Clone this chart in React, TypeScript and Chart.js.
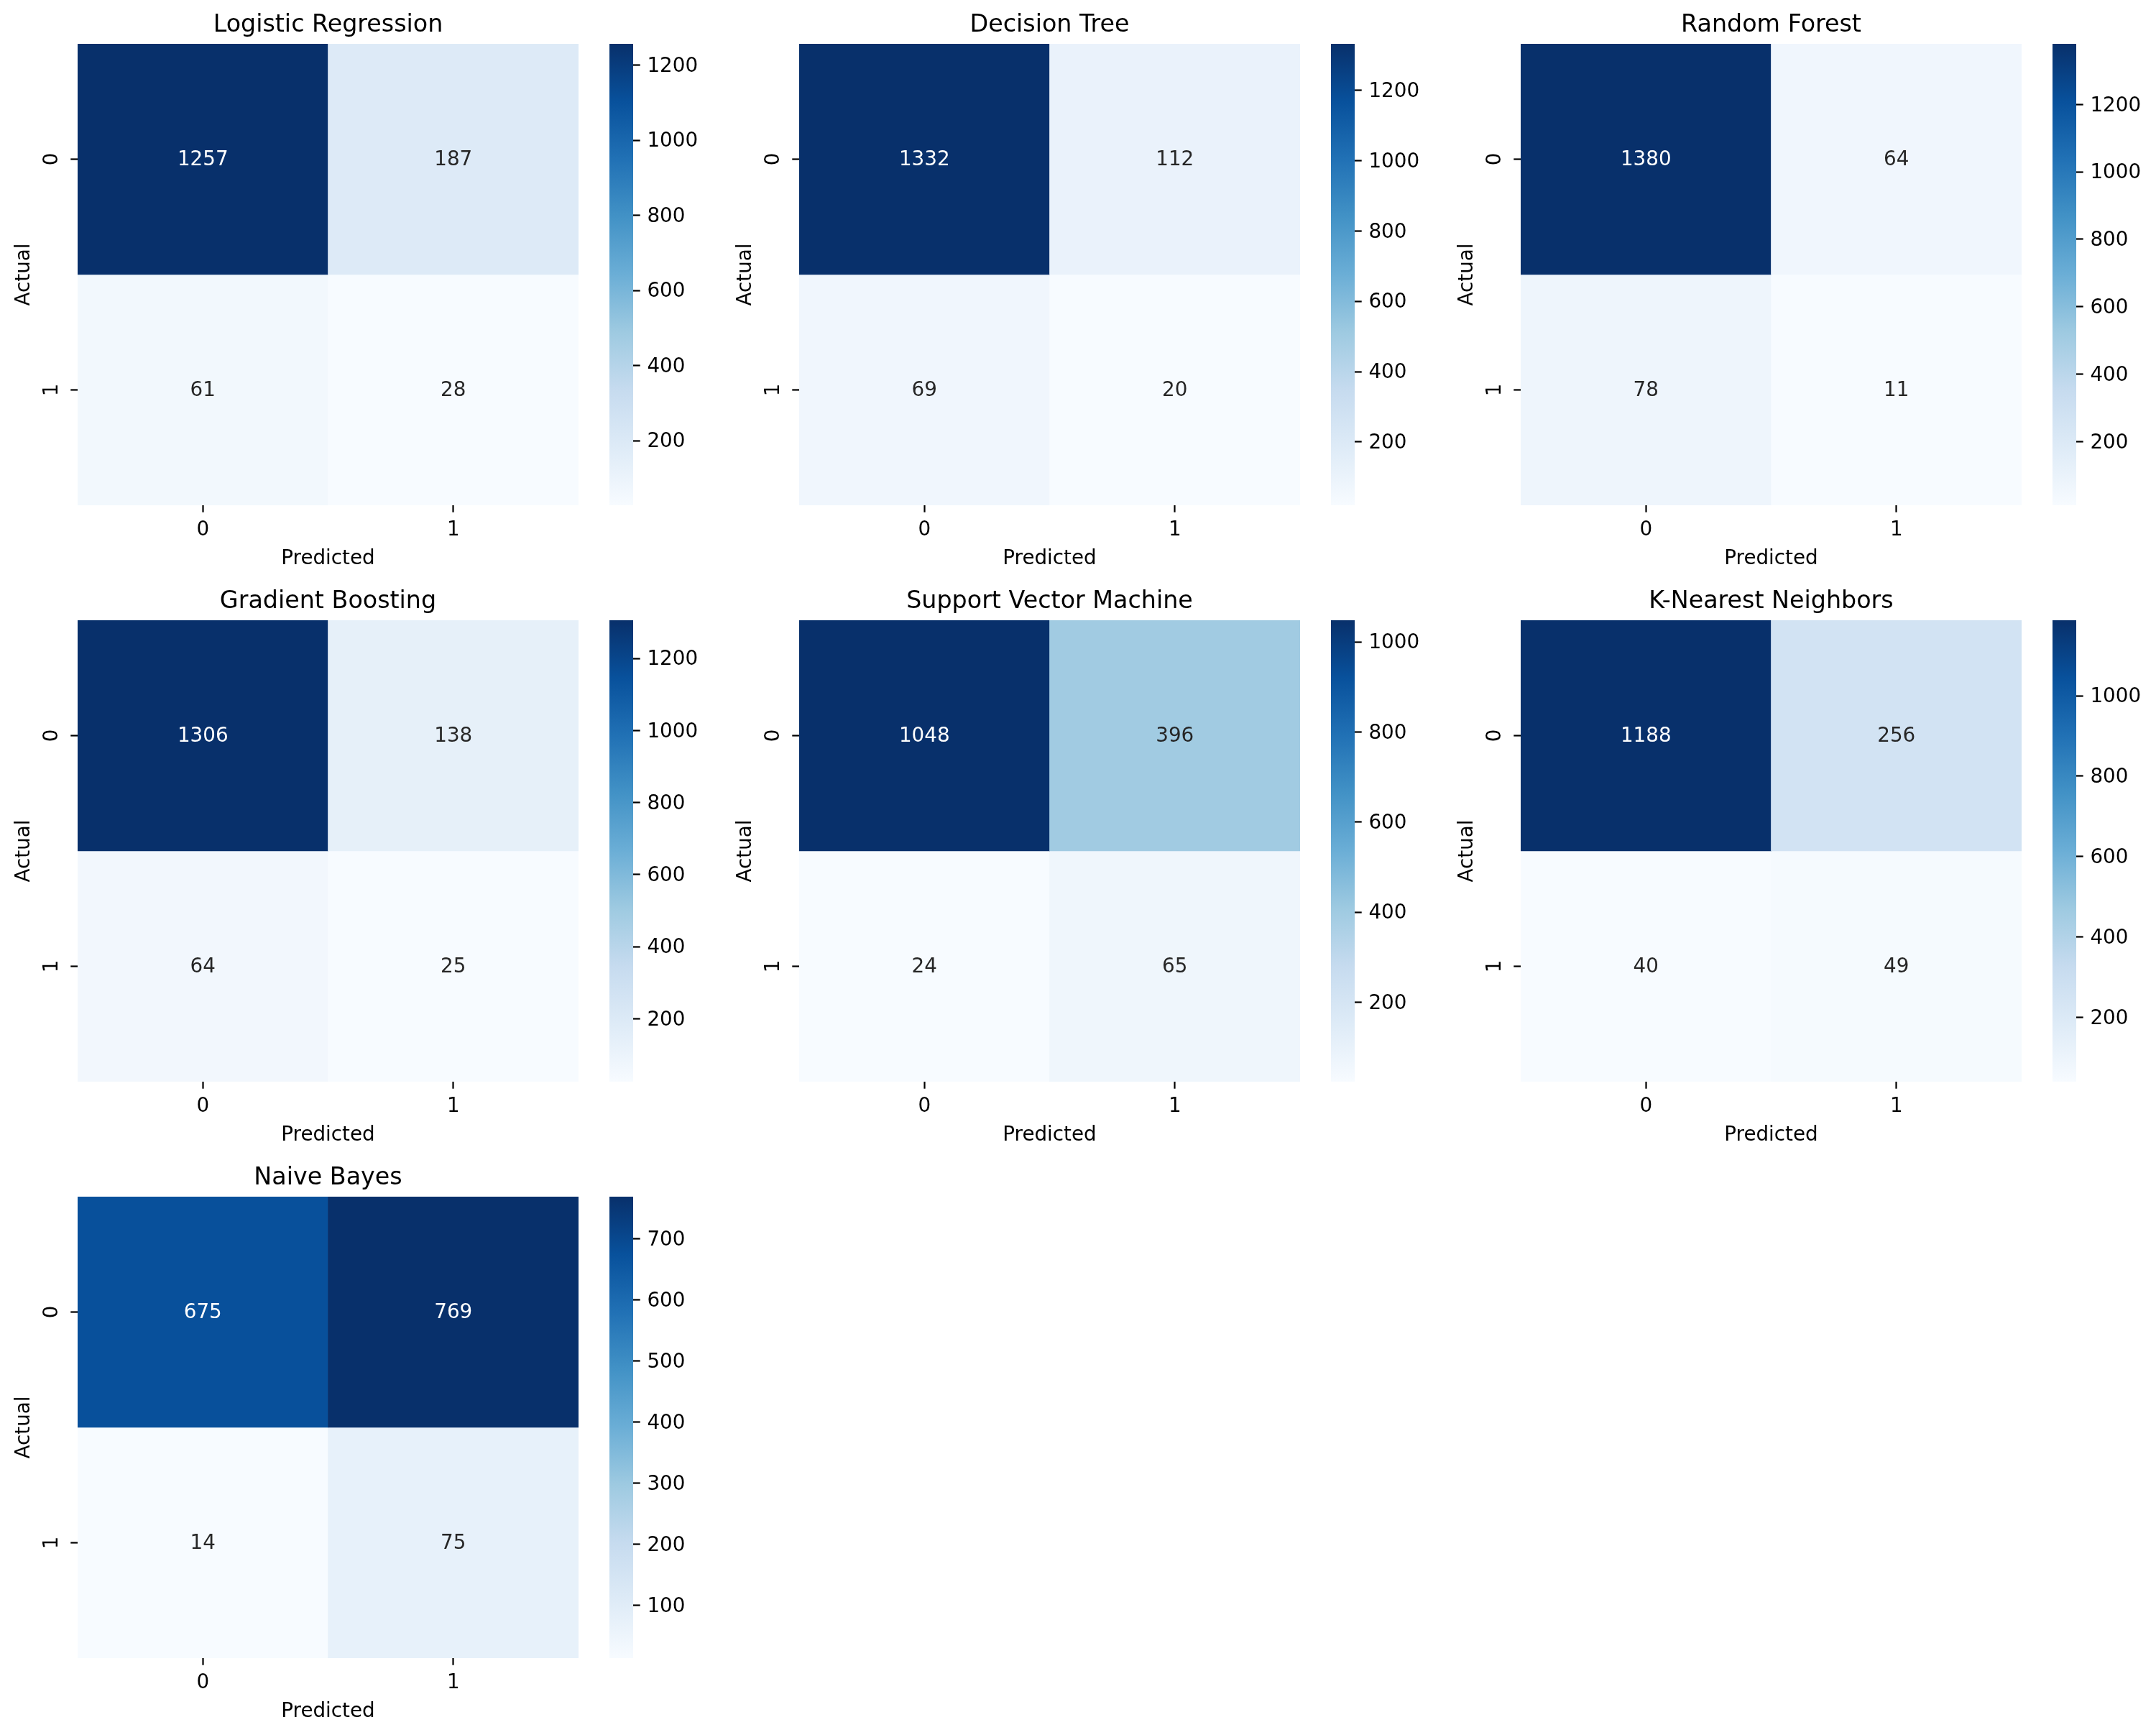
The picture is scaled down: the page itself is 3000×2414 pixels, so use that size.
import React, { useEffect, useRef } from 'react';
import { Chart, registerables } from 'chart.js';

Chart.register(...registerables);

// ---------------- data ----------------
const classLabels = ['0', '1'];
const xAxisTitle = 'Predicted';
const yAxisTitle = 'Actual';

const modelNames = [
  'Logistic Regression',
  'Decision Tree',
  'Random Forest',
  'Gradient Boosting',
  'Support Vector Machine',
  'K-Nearest Neighbors',
  'Naive Bayes',
];

const cmLogisticRegression = [[1257, 187], [61, 28]];
const cmDecisionTree = [[1332, 112], [69, 20]];
const cmRandomForest = [[1380, 64], [78, 11]];
const cmGradientBoosting = [[1306, 138], [64, 25]];
const cmSupportVectorMachine = [[1048, 396], [24, 65]];
const cmKNearestNeighbors = [[1188, 256], [40, 49]];
const cmNaiveBayes = [[675, 769], [14, 75]];

const cbTicksLogisticRegression = [200, 400, 600, 800, 1000, 1200];
const cbTicksDecisionTree = [200, 400, 600, 800, 1000, 1200];
const cbTicksRandomForest = [200, 400, 600, 800, 1000, 1200];
const cbTicksGradientBoosting = [200, 400, 600, 800, 1000, 1200];
const cbTicksSupportVectorMachine = [200, 400, 600, 800, 1000];
const cbTicksKNearestNeighbors = [200, 400, 600, 800, 1000];
const cbTicksNaiveBayes = [100, 200, 300, 400, 500, 600, 700];

const panels = [
  { title: modelNames[0], matrix: cmLogisticRegression, ticks: cbTicksLogisticRegression },
  { title: modelNames[1], matrix: cmDecisionTree, ticks: cbTicksDecisionTree },
  { title: modelNames[2], matrix: cmRandomForest, ticks: cbTicksRandomForest },
  { title: modelNames[3], matrix: cmGradientBoosting, ticks: cbTicksGradientBoosting },
  { title: modelNames[4], matrix: cmSupportVectorMachine, ticks: cbTicksSupportVectorMachine },
  { title: modelNames[5], matrix: cmKNearestNeighbors, ticks: cbTicksKNearestNeighbors },
  { title: modelNames[6], matrix: cmNaiveBayes, ticks: cbTicksNaiveBayes },
];

// ---------------- style / layout ----------------
const FONT = "'DejaVu Sans', 'Liberation Sans', sans-serif";
const PT = 200 / 72;
const FS = 10 * PT;
const TITLE_FS = 12 * PT;

const AX_LEFT0 = 108;
const COL_STEP = 1004;
const AX_TOP0 = 61;
const ROW_STEP = 802;
const AX_W = 697;
const AX_H = 642;
const YW = 108;
const XH = 110;
const TOP_PAD = 61;
const RIGHT_PAD = 10;
const CB_OFFSET = 740;
const CB_W = 33;
const CB_LABEL_W = 130;
const CB_VPAD = 24;
const TICK_LEN = 3.5 * PT;
const TICK_W = 0.8 * PT;

const BLUES = ['#f7fbff', '#deebf7', '#c6dbef', '#9ecae1', '#6baed6', '#4292c6', '#2171b5', '#08519c', '#08306b'];

function hexToRgb(h: string): number[] {
  return [parseInt(h.slice(1, 3), 16), parseInt(h.slice(3, 5), 16), parseInt(h.slice(5, 7), 16)];
}
const BLUES_RGB = BLUES.map(hexToRgb);

function bluesRgb(t: number): number[] {
  const tt = Math.max(0, Math.min(1, t));
  const idx = Math.min(255, Math.floor(tt * 256));
  const q = idx / 255;
  const s = q * 8;
  const i = Math.min(7, Math.floor(s));
  const f = s - i;
  const a = BLUES_RGB[i];
  const b = BLUES_RGB[i + 1];
  return [0, 1, 2].map((k) => a[k] + (b[k] - a[k]) * f);
}
function rgbStr(c: number[]) {
  return `rgb(${Math.round(c[0])},${Math.round(c[1])},${Math.round(c[2])})`;
}
function relLum(c: number[]) {
  const f = (v: number) => {
    const x = v / 255;
    return x <= 0.03928 ? x / 12.92 : Math.pow((x + 0.055) / 1.055, 2.4);
  };
  return 0.2126 * f(c[0]) + 0.7152 * f(c[1]) + 0.0722 * f(c[2]);
}

function tickGrid() {
  return {
    display: true,
    drawOnChartArea: false,
    drawTicks: true,
    tickLength: TICK_LEN,
    tickWidth: TICK_W,
    tickColor: '#000',
    offset: false,
  };
}

function Panel({ index }: { index: number }) {
  const hmRef = useRef<HTMLCanvasElement | null>(null);
  const cbRef = useRef<HTMLCanvasElement | null>(null);
  const p = panels[index];
  const col = index % 3;
  const row = Math.floor(index / 3);
  const axLeft = AX_LEFT0 + col * COL_STEP;
  const axTop = AX_TOP0 + row * ROW_STEP;
  const hmW = YW + AX_W + RIGHT_PAD;
  const hmH = TOP_PAD + AX_H + XH;
  const cbW = CB_W + CB_LABEL_W;
  const cbH = AX_H + 2 * CB_VPAD;

  useEffect(() => {
    const values = p.matrix.flat();
    const vmin = Math.min(...values);
    const vmax = Math.max(...values);
    const norm = (v: number) => (v - vmin) / (vmax - vmin);

    const annotPlugin = {
      id: 'annot' + index,
      afterDatasetsDraw(chart: any) {
        const { ctx, chartArea, scales } = chart;
        ctx.save();
        ctx.font = `${FS}px ${FONT}`;
        ctx.textAlign = 'center';
        ctx.textBaseline = 'middle';
        p.matrix.forEach((r: number[], ri: number) => {
          r.forEach((v: number, ci: number) => {
            const c = bluesRgb(norm(v));
            ctx.fillStyle = relLum(c) > 0.408 ? '#262626' : '#ffffff';
            const x = scales.x.getPixelForValue(ci);
            const y = scales.y.getPixelForValue(ri + 0.5) + 1;
            ctx.fillText(String(v), x, y);
          });
        });
        // subplot title
        ctx.fillStyle = '#000';
        ctx.font = `${TITLE_FS}px ${FONT}`;
        ctx.textBaseline = 'alphabetic';
        ctx.fillText(p.title, (chartArea.left + chartArea.right) / 2, chartArea.top - 6 * PT);
        ctx.restore();
      },
    };

    const hm = new Chart(hmRef.current as HTMLCanvasElement, {
      type: 'bar',
      data: {
        labels: classLabels,
        datasets: p.matrix.map((r: number[], ri: number) => ({
          label: classLabels[ri],
          data: r.map(() => [ri, ri + 1]),
          backgroundColor: r.map((v: number) => rgbStr(bluesRgb(norm(v)))),
          borderWidth: 0,
          barPercentage: 1,
          categoryPercentage: 1,
        })),
      } as any,
      options: {
        responsive: false,
        animation: false,
        layout: { padding: { left: 0, right: RIGHT_PAD, top: TOP_PAD, bottom: 0 } },
        plugins: {
          legend: { display: false },
          tooltip: { enabled: false },
          title: { display: false },
        },
        scales: {
          x: {
            type: 'category',
            stacked: true,
            offset: true,
            grid: tickGrid(),
            border: { display: false },
            ticks: { color: '#000', font: { family: FONT, size: FS }, padding: 8, maxRotation: 0, minRotation: 0 },
            title: {
              display: true,
              text: xAxisTitle,
              color: '#000',
              font: { family: FONT, size: FS },
              padding: { top: 0, bottom: 19 },
            },
            afterFit: (s: any) => {
              s.height = XH;
              s.paddingLeft = 0;
              s.paddingRight = 0;
            },
          },
          y: {
            type: 'linear',
            min: 0,
            max: 2,
            reverse: true,
            stacked: false,
            grid: tickGrid(),
            border: { display: false },
            afterBuildTicks: (s: any) => {
              s.ticks = classLabels.map((_, i) => ({ value: i + 0.5 }));
            },
            ticks: {
              color: '#000',
              font: { family: FONT, size: FS },
              padding: 17,
              minRotation: 90,
              maxRotation: 90,
              crossAlign: 'center',
              autoSkip: false,
              callback: (_v: any, i: number) => classLabels[i],
            },
            title: {
              display: true,
              text: yAxisTitle,
              color: '#000',
              font: { family: FONT, size: FS },
              padding: { top: 17.3, bottom: 0 },
            },
            afterFit: (s: any) => {
              s.width = YW;
              s.paddingTop = 0;
              s.paddingBottom = 0;
            },
          },
        },
      } as any,
      plugins: [annotPlugin],
    });

    const cb = new Chart(cbRef.current as HTMLCanvasElement, {
      type: 'bar',
      data: {
        labels: [''],
        datasets: [
          {
            data: [[vmin, vmax]],
            borderWidth: 0,
            barPercentage: 1,
            categoryPercentage: 1,
            backgroundColor: (c: any) => {
              const chart = c.chart;
              const ys = chart.scales && chart.scales.y;
              if (!chart.chartArea || !ys) return BLUES[0];
              const g = chart.ctx.createLinearGradient(0, ys.getPixelForValue(vmin), 0, ys.getPixelForValue(vmax));
              BLUES.forEach((colr, i) => g.addColorStop(i / 8, colr));
              return g;
            },
          },
        ],
      } as any,
      options: {
        responsive: false,
        animation: false,
        layout: { padding: { left: 0, right: 0, top: CB_VPAD, bottom: CB_VPAD } },
        plugins: { legend: { display: false }, tooltip: { enabled: false }, title: { display: false } },
        scales: {
          x: { display: false, offset: true },
          y: {
            position: 'right',
            min: vmin,
            max: vmax,
            grid: tickGrid(),
            border: { display: false },
            afterBuildTicks: (s: any) => {
              s.ticks = p.ticks.map((v: number) => ({ value: v }));
            },
            ticks: {
              color: '#000',
              font: { family: FONT, size: FS },
              padding: TICK_LEN,
              autoSkip: false,
              labelOffset: 2,
              callback: (v: any) => String(v),
            },
            afterFit: (s: any) => {
              s.width = CB_LABEL_W;
              s.paddingTop = 0;
              s.paddingBottom = 0;
            },
          },
        },
      } as any,
    });

    return () => {
      hm.destroy();
      cb.destroy();
    };
  }, [index]);

  return (
    <>
      <canvas
        ref={hmRef}
        width={hmW}
        height={hmH}
        style={{ position: 'absolute', left: axLeft - YW, top: axTop - TOP_PAD, width: hmW, height: hmH }}
      />
      <canvas
        ref={cbRef}
        width={cbW}
        height={cbH}
        style={{ position: 'absolute', left: axLeft + CB_OFFSET, top: axTop - CB_VPAD, width: cbW, height: cbH }}
      />
    </>
  );
}

export default function App() {
  return (
    <div style={{ position: 'absolute', left: 0, top: 0, width: 3000, height: 2414, background: '#fff', overflow: 'hidden' }}>
      {panels.map((_, i) => (
        <Panel key={i} index={i} />
      ))}
    </div>
  );
}
